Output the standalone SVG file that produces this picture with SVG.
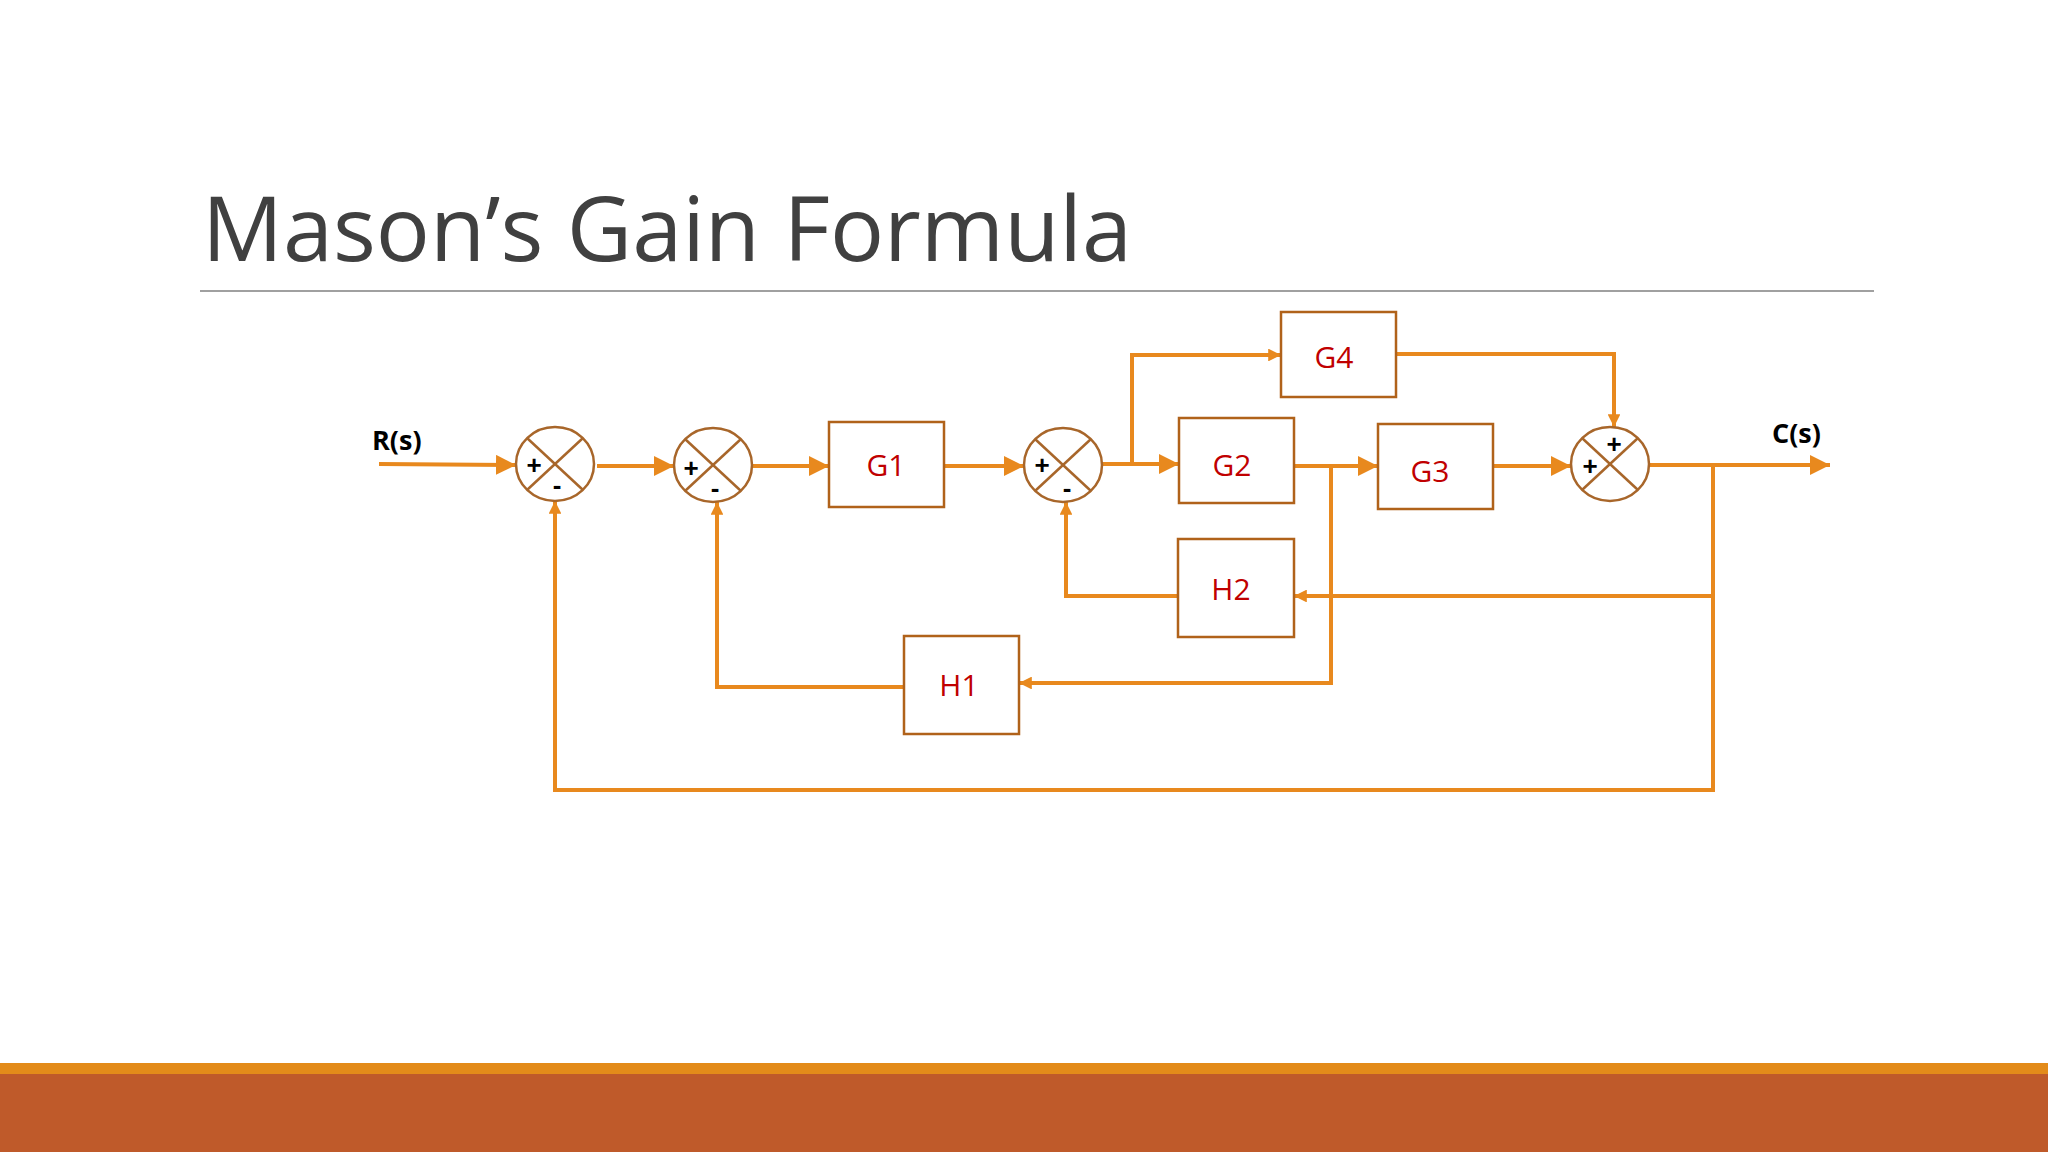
<svg xmlns="http://www.w3.org/2000/svg" width="2048" height="1152" viewBox="0 0 2048 1152">
<defs>
<style>
.t{font-family:"Open Sans","Liberation Sans",sans-serif}
.box{fill:#fff;stroke:#B0621A;stroke-width:2.5}
.lbl{font-family:"Open Sans","Liberation Sans",sans-serif;font-size:30px;fill:#C00000;text-anchor:middle}
.sum ellipse{fill:#fff;stroke:#A8662A;stroke-width:2.5}
.sum line{stroke:#A8662A;stroke-width:2.5}
.sg{font-family:"Liberation Sans",sans-serif;font-size:26px;fill:#000;text-anchor:middle;font-weight:bold}
.c{fill:none;stroke:#E8891E;stroke-width:4}
.io{font-family:"Open Sans","Liberation Sans",sans-serif;font-size:27px;font-weight:bold;fill:#000}
</style>
<marker id="big" viewBox="0 0 10 10" refX="10" refY="5" markerWidth="5" markerHeight="5" markerUnits="strokeWidth" orient="auto"><path d="M0,0L10,5L0,10z" fill="#E8891E"/></marker>
<marker id="sm" viewBox="0 0 10 10" refX="10" refY="5" markerWidth="3.2" markerHeight="3.2" markerUnits="strokeWidth" orient="auto"><path d="M0,0L10,5L0,10z" fill="#E8891E"/></marker>
</defs>
<rect width="2048" height="1152" fill="#fff"/>
<text x="202" y="261" class="t" font-size="90" fill="#404040">Mason’s Gain Formula</text>
<line x1="200" y1="291" x2="1874" y2="291" stroke="#A0A0A0" stroke-width="2"/>
<rect x="0" y="1063" width="2048" height="11" fill="#E38B1A"/>
<rect x="0" y="1074" width="2048" height="78" fill="#BF5A2A"/>
<g id="connectors">
<path class="c" d="M379,464 L516,465" marker-end="url(#big)"/>
<path class="c" d="M597,466 L674,466" marker-end="url(#big)"/>
<path class="c" d="M752,466 L829,466" marker-end="url(#big)"/>
<path class="c" d="M944,466 L1024,466" marker-end="url(#big)"/>
<path class="c" d="M1102,464 L1179,464" marker-end="url(#big)"/>
<path class="c" d="M1132,464 L1132,355 L1281,355" marker-end="url(#sm)"/>
<path class="c" d="M1294,466 L1378,466" marker-end="url(#big)"/>
<path class="c" d="M1331,466 L1331,683 L1019,683" marker-end="url(#sm)"/>
<path class="c" d="M1493,466 L1571,466" marker-end="url(#big)"/>
<path class="c" d="M1396,354 L1614,354 L1614,427" marker-end="url(#sm)"/>
<path class="c" d="M1649,465 L1830,465" marker-end="url(#big)"/>
<path class="c" d="M1713,465 L1713,790 L555,790 L555,501" marker-end="url(#sm)"/>
<path class="c" d="M1713,596 L1294,596" marker-end="url(#sm)"/>
<path class="c" d="M1178,596 L1066,596 L1066,502" marker-end="url(#sm)"/>
<path class="c" d="M904,687 L717,687 L717,502" marker-end="url(#sm)"/>
</g>
<g id="sum1" class="sum"><ellipse cx="555" cy="464" rx="39" ry="37"/><line x1="527" y1="438" x2="583" y2="490"/><line x1="583" y1="438" x2="527" y2="490"/><text class="sg" x="534" y="474">+</text><text class="sg" x="557" y="494">-</text></g>
<g id="sum2" class="sum"><ellipse cx="713" cy="465" rx="39" ry="37"/><line x1="685" y1="439" x2="741" y2="491"/><line x1="741" y1="439" x2="685" y2="491"/><text class="sg" x="691" y="477">+</text><text class="sg" x="715" y="497">-</text></g>
<g id="sum3" class="sum"><ellipse cx="1063" cy="465" rx="39" ry="37"/><line x1="1035" y1="439" x2="1091" y2="491"/><line x1="1091" y1="439" x2="1035" y2="491"/><text class="sg" x="1042" y="474">+</text><text class="sg" x="1067" y="497">-</text></g>
<g id="sum4" class="sum"><ellipse cx="1610" cy="464" rx="39" ry="37"/><line x1="1582" y1="438" x2="1638" y2="490"/><line x1="1638" y1="438" x2="1582" y2="490"/><text class="sg" x="1590" y="475">+</text><text class="sg" x="1614" y="453">+</text></g>
<g id="G1"><rect class="box" x="829" y="422" width="115" height="85"/><text class="lbl" x="886" y="476">G1</text></g>
<g id="G2"><rect class="box" x="1179" y="418" width="115" height="85"/><text class="lbl" x="1232" y="476">G2</text></g>
<g id="G3"><rect class="box" x="1378" y="424" width="115" height="85"/><text class="lbl" x="1430" y="482">G3</text></g>
<g id="G4"><rect class="box" x="1281" y="312" width="115" height="85"/><text class="lbl" x="1334" y="368">G4</text></g>
<g id="H2"><rect class="box" x="1178" y="539" width="116" height="98"/><text class="lbl" x="1231" y="600">H2</text></g>
<g id="H1"><rect class="box" x="904" y="636" width="115" height="98"/><text class="lbl" x="959" y="696">H1</text></g>
<text class="io" x="372" y="450">R(s)</text>
<text class="io" x="1772" y="443">C(s)</text>
</svg>
